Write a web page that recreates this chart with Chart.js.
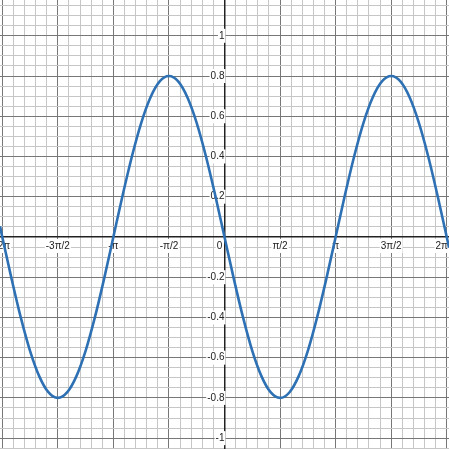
<!DOCTYPE html>
<html><head><meta charset="utf-8">
<script src="https://cdn.jsdelivr.net/npm/chart.js@4"></script>
<style>html,body{margin:0;padding:0;background:#fff;overflow:hidden}#wrap{width:449px;height:449px;position:relative}</style>
</head><body><div id="wrap"><canvas id="c"></canvas></div>
<script>
// Curve samples (x in radians, y values)
const xValues = [-6.347, -6.283, -6.021, -5.760, -5.498, -5.236, -4.974, -4.712, -4.451, -4.189, -3.927, -3.665, -3.403,
  -3.142, -2.880, -2.618, -2.356, -2.094, -1.833, -1.571, -1.309, -1.047, -0.785, -0.524, -0.262,
  0, 0.262, 0.524, 0.785, 1.047, 1.309, 1.571, 1.833, 2.094, 2.356, 2.618, 2.880,
  3.142, 3.403, 3.665, 3.927, 4.189, 4.451, 4.712, 4.974, 5.236, 5.498, 5.760, 6.021, 6.283, 6.347];
const yValues = [0.053, 0, -0.207, -0.4, -0.566, -0.693, -0.773, -0.8, -0.773, -0.693, -0.566, -0.4, -0.207,
  0, 0.207, 0.4, 0.566, 0.693, 0.773, 0.8, 0.773, 0.693, 0.566, 0.4, 0.207,
  0, -0.207, -0.4, -0.566, -0.693, -0.773, -0.8, -0.773, -0.693, -0.566, -0.4, -0.207,
  0, 0.207, 0.4, 0.566, 0.693, 0.773, 0.8, 0.773, 0.693, 0.566, 0.4, 0.207, 0, -0.053];

// Tick labels (x in multiples of pi/2)
const xTickHalfPis = [-4, -3, -2, -1, 0, 1, 2, 3, 4];
const xTickLabels = ['-2π', '-3π/2', '-π', '-π/2', '0\u2003', 'π/2', 'π', '3π/2', '2π\u2003'];
const yTickValues = [-1, -0.8, -0.6, -0.4, -0.2, 0.2, 0.4, 0.6, 0.8, 1];
const yTickLabels = ['-1', '-0.8', '-0.6', '-0.4', '-0.2', '0.2', '0.4', '0.6', '0.8', '1'];

const xRange = [-6.347, 6.347];
const yRange = [-1.054, 1.178];

// grid subdivision (style)
const xMinorStep = Math.PI / 10;
const yMinorStep = 0.05;
const xGrid = [];
for (let k = Math.ceil(xRange[0] / xMinorStep); k <= Math.floor(xRange[1] / xMinorStep); k++) xGrid.push(k * xMinorStep);
const yGrid = [];
for (let k = Math.ceil(yRange[0] / yMinorStep - 1e-9); k <= Math.floor(yRange[1] / yMinorStep + 1e-9); k++) yGrid.push(Math.round(k * yMinorStep * 1000) / 1000);

function xLabel(v) {
  const h = v / (Math.PI / 2);
  if (Math.abs(h - Math.round(h)) > 1e-6) return '';
  const i = xTickHalfPis.indexOf(Math.round(h));
  return i >= 0 ? xTickLabels[i] : '';
}
function yLabel(v) {
  for (let i = 0; i < yTickValues.length; i++) if (Math.abs(yTickValues[i] - v) < 1e-6) return yTickLabels[i];
  return '';
}
function xMajor(v) { const h = v / (Math.PI / 2); return Math.abs(h - Math.round(h)) < 1e-6; }
function yMajor(v) { const h = v / 0.2; return Math.abs(h - Math.round(h)) < 1e-6; }

const MINOR = '#c6c6c6', MAJOR = '#777777', AXIS = '#222';
const labelFont = { family: 'Arial, "Liberation Sans", sans-serif', size: 10 };

new Chart(document.getElementById('c'), {
  type: 'scatter',
  data: {
    datasets: [{
      data: xValues.map((x, i) => ({ x: x, y: yValues[i] })),
      showLine: true,
      borderColor: '#2d70b3',
      borderWidth: 2.6,
      pointRadius: 0,
      cubicInterpolationMode: 'monotone',
      fill: false
    }]
  },
  options: {
    responsive: true,
    maintainAspectRatio: false,
    animation: false,
    layout: { padding: 0, autoPadding: false },
    plugins: { legend: { display: false }, tooltip: { enabled: false } },
    scales: {
      x: {
        type: 'linear', min: xRange[0], max: xRange[1],
        position: { y: 0 },
        afterBuildTicks: s => { s.ticks = xGrid.map(v => ({ value: v })); },
        afterFit: s => { s.height = 0; s.paddingLeft = 0; s.paddingRight = 0; s.paddingTop = 0; s.paddingBottom = 0; },
        grid: { color: c => (c.tick && xMajor(c.tick.value)) ? MAJOR : MINOR, lineWidth: 1, drawTicks: false },
        border: { display: true, color: AXIS, width: 1.5 },
        ticks: {
          autoSkip: false, maxRotation: 0, minRotation: 0, padding: 3,
          callback: v => xLabel(v),
          font: labelFont, color: '#222',
          showLabelBackdrop: true,
          backdropColor: c => (c.tick && xLabel(c.tick.value)) ? '#ffffff' : 'rgba(255,255,255,0)',
          backdropPadding: 1
        }
      },
      y: {
        type: 'linear', min: yRange[0], max: yRange[1],
        position: { x: 0 },
        afterBuildTicks: s => { s.ticks = yGrid.map(v => ({ value: v })); },
        afterFit: s => { s.width = 0; s.paddingLeft = 0; s.paddingRight = 0; s.paddingTop = 0; s.paddingBottom = 0; },
        grid: { color: c => (c.tick && yMajor(c.tick.value)) ? MAJOR : MINOR, lineWidth: 1, drawTicks: false },
        border: { display: true, color: AXIS, width: 1.5 },
        ticks: {
          autoSkip: false, padding: 3,
          callback: v => yLabel(v),
          font: labelFont, color: '#222',
          showLabelBackdrop: true,
          backdropColor: c => (c.tick && yLabel(c.tick.value)) ? '#ffffff' : 'rgba(255,255,255,0)',
          backdropPadding: 1
        }
      }
    }
  }
});
</script>
</body></html>
